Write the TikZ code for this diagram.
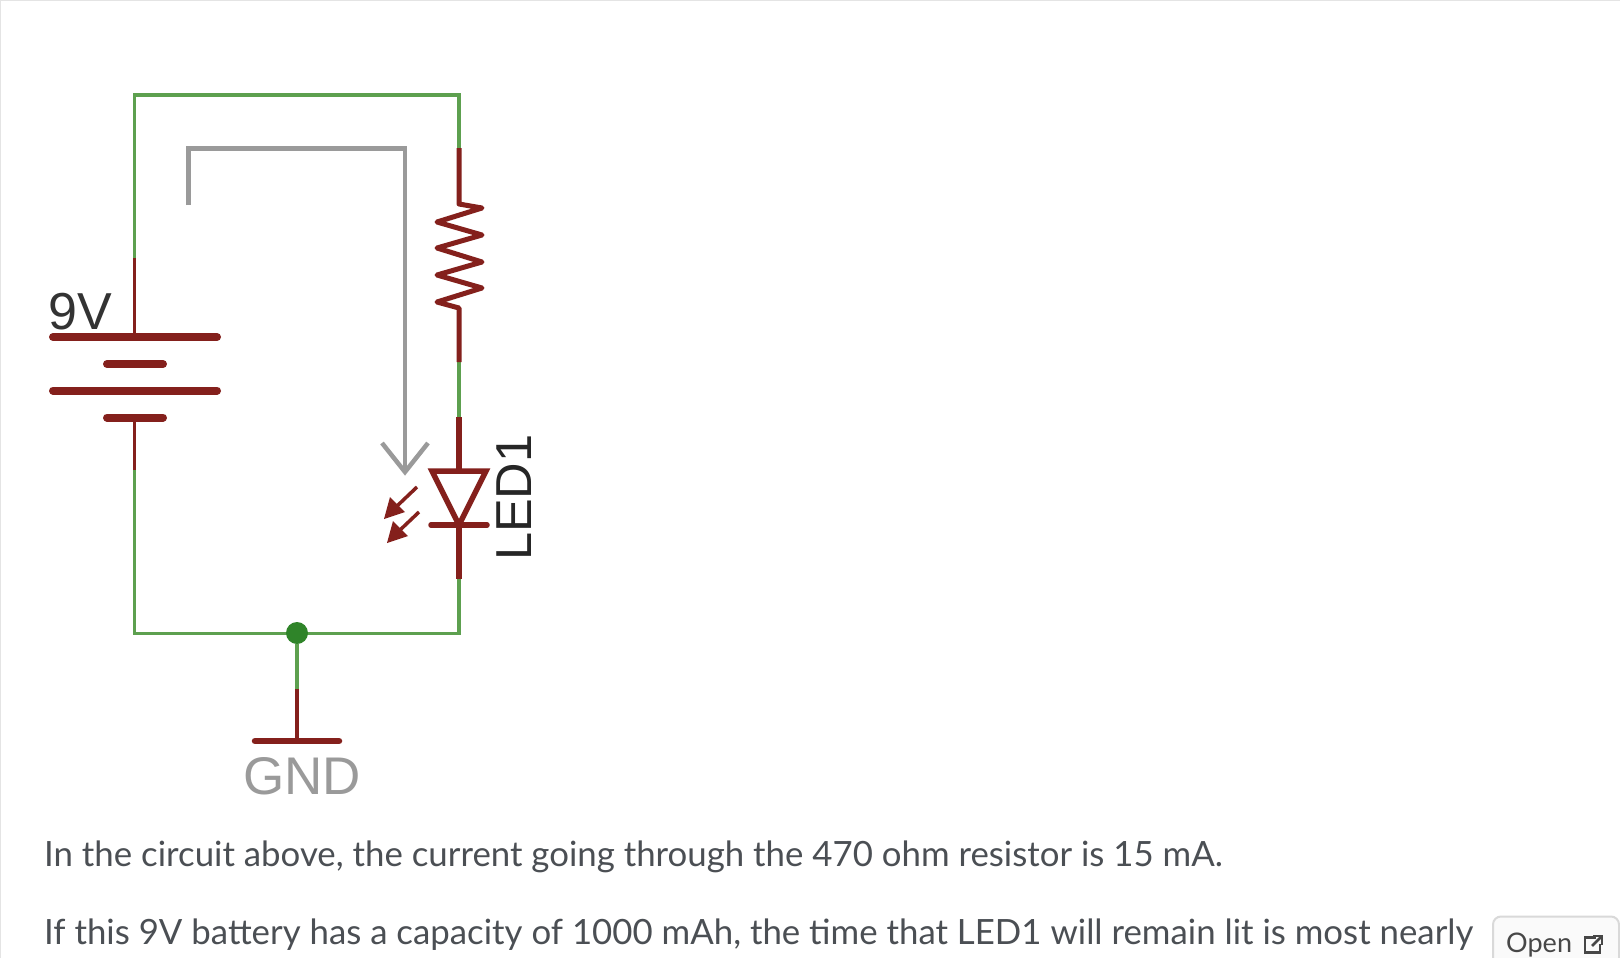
\documentclass[tikz,border=0pt]{standalone}
\usepackage{fontspec}
\setmainfont{Lato}
\newfontfamily\schem{Liberation Sans}
\definecolor{wiregreen}{HTML}{5DA04F}
\definecolor{partred}{HTML}{84201C}
\definecolor{dotgreen}{HTML}{2F8429}
\definecolor{guide}{HTML}{9A9A9A}
\definecolor{bodytext}{HTML}{4B4F54}
\definecolor{frameline}{HTML}{E4E4E4}
\tikzset{
  wire/.style={draw=wiregreen,line width=3.8pt,line join=miter},
  lead/.style={draw=partred,line width=3.8pt},
  plate/.style={draw=partred,line width=8pt,line cap=round},
  barline/.style={draw=partred,line width=5.5pt},
  pointer/.style={draw=guide,line width=4.5pt},
  schemtext/.style={font=\schem\fontsize{52}{52}\selectfont,inner sep=0pt},
  para/.style={font=\fontsize{34.8}{36}\selectfont,text=bodytext,anchor=base west,inner sep=0pt},
  ray/.style={draw=partred,line width=3.5pt},
  rayhead/.style={fill=partred,draw=none}
}
\begin{document}
\begin{tikzpicture}[x=1pt,y=-1pt]
\useasboundingbox (0,0) rectangle (1620,958);
\fill[white] (0,0) rectangle (1620,958);
\draw[frameline,line width=1.5pt] (0.5,958) -- (0.5,0.5) -- (1620,0.5);
% named points
\coordinate (batTop) at (134.5,258);
\coordinate (batPos) at (134.5,337);
\coordinate (batNeg) at (134.5,418);
\coordinate (batBot) at (134.5,470);
\coordinate (cornerTL) at (134.5,95);
\coordinate (cornerTR) at (459,95);
\coordinate (resTop) at (459,148);
\coordinate (resA) at (459,204);
\coordinate (resB) at (459,308);
\coordinate (resBot) at (459,362);
\coordinate (ledTop) at (459,417);
\coordinate (ledA) at (459,471);
\coordinate (ledK) at (459,525);
\coordinate (ledBot) at (459,579);
\coordinate (cornerBR) at (459,633.5);
\coordinate (cornerBL) at (134.5,633.5);
\coordinate (gndMid) at (297,689);
\coordinate (gndBar) at (297,741);
\coordinate (pStart) at (188.5,205);
\coordinate (pC1) at (188.5,148.5);
\coordinate (pC2) at (405,148.5);
\coordinate (pTip) at (405,472);
% green wires
\draw[wire] (batTop) -- (cornerTL) -- (cornerTR) -- (resTop);
\draw[wire] (resBot) -- (ledTop);
\draw[wire] (ledBot) -- (cornerBR) -- (cornerBL) -- (batBot);
\node[circle,fill=dotgreen,minimum size=22pt,inner sep=0pt] (junction) at (297,633) {};
\draw[wire] (junction) -- (gndMid);
% battery
\draw[lead] (batTop) -- (batPos);
\draw[lead] (batNeg) -- (batBot);
\draw[plate] (53,337) -- (217,337);
\draw[plate] (107,364) -- (163,364);
\draw[plate] (53,390.5) -- (217,390.5);
\draw[plate] (107,417.5) -- (163,417.5);
\node[schemtext,text=black!80,anchor=base west] (nineV) at (48,329) {9V};
% resistor
\draw[lead,line width=5pt,line join=round] (resTop) -- (resA) -- (482,208) -- (437,222) -- (482,235) -- (437,248) -- (482,262) -- (437,275) -- (482,288) -- (437,302) -- (resB) -- (resBot);
% LED
\draw[lead,line width=6.5pt] (ledTop) -- (ledA);
\draw[lead,line width=6.5pt] (ledK) -- (ledBot);
\draw[barline,line join=miter] (432,471) -- (486,471) -- (ledK) -- cycle;
\draw[barline,line cap=round] (431,525) -- (487,525);
\draw[ray] (417,487) -- (396,507);
\fill[rayhead] (384,519) -- (390,497) -- (405,512) -- cycle;
\draw[ray] (419,512) -- (399,531);
\fill[rayhead] (387,543) -- (393,521) -- (408,536) -- cycle;
\node[schemtext,text=black!85,rotate=90,anchor=base west,font=\schem\fontsize{50.5}{52}\selectfont] (led1) at (531.5,561) {LED1};
% pointer
\draw[pointer,line join=miter] (pStart) -- (pC1) -- (pC2) -- (pTip);
\draw[pointer,line join=miter] (382,443) -- (pTip) -- (428,443);
% ground
\draw[lead] (gndMid) -- (gndBar);
\draw[barline,line width=6.5pt,line cap=round] (255,741) -- (339,741);
\node[schemtext,text=guide,anchor=center,font=\schem\fontsize{53}{53}\selectfont] (gnd) at (302,776) {GND};
% text
\node[para] (lineA) at (44,866) {In the circuit above, the current going through the 470 ohm resistor is 15 mA.};
\node[para] (lineB) at (44,944.5) {If this 9V battery has a capacity of 1000 mAh, the time that LED1 will remain lit is most nearly};
% button
\draw[draw=black!15,fill=black!2,line width=2pt,rounded corners=8pt] (1493,975) -- (1493,916.5) -- (1619,916.5) -- (1619,975);
\node[font=\fontsize{27}{27}\selectfont,text=black!72,anchor=base west,inner sep=0pt] (openlabel) at (1506,952) {Open};
\draw[black!72,line width=2.6pt] (1596,937.5) -- (1585,937.5) -- (1585,952.5) -- (1600,952.5) -- (1600,944);
\draw[black!72,line width=2.6pt] (1592,946) -- (1601,937);
\draw[black!72,line width=2.6pt] (1593,936) -- (1602,936) -- (1602,945);
\end{tikzpicture}
\end{document}
